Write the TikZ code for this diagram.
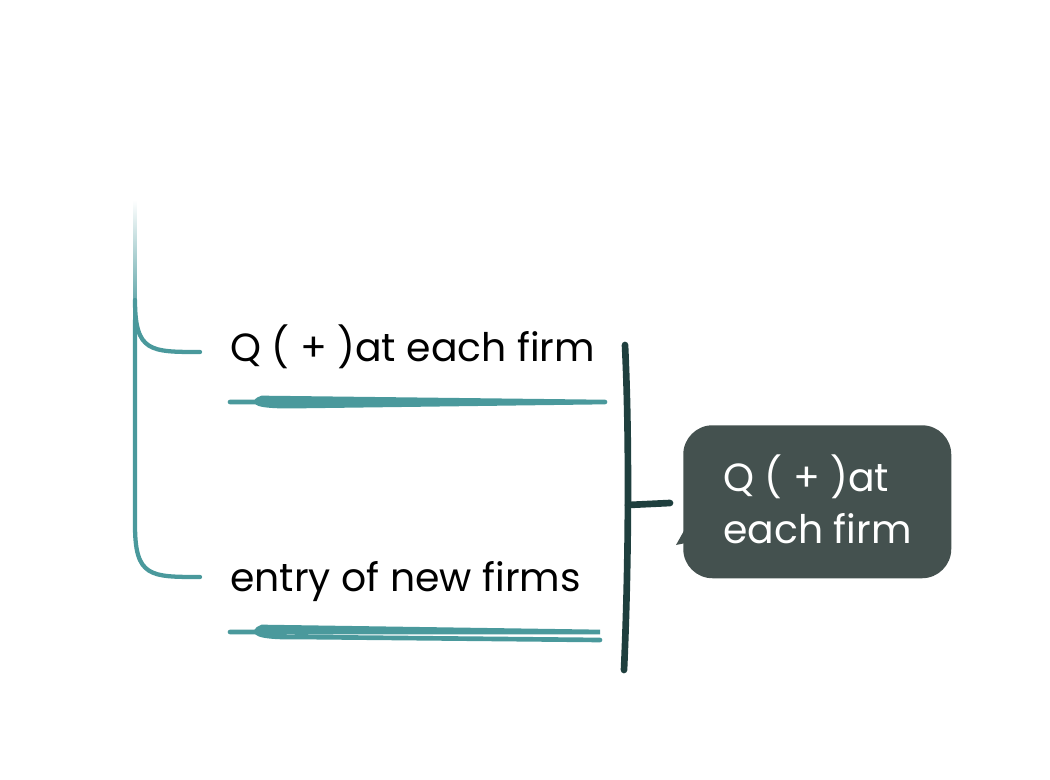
\documentclass[tikz,border=0pt]{standalone}
\usepackage{fontspec}
\setmainfont{Poppins}
\begin{document}
\begin{tikzpicture}[x=0.75pt,y=-0.75pt,
  teal/.style={draw=tealc,line width=3.2pt,line cap=round},
  lbl/.style={font=\fontsize{29.5}{34}\selectfont,anchor=base west,inner sep=0},
  bar/.style={draw=darkc,line width=5pt,line cap=round}]
\definecolor{tealc}{HTML}{4A999C}
\definecolor{darkc}{HTML}{1F3F3E}
\definecolor{boxc}{HTML}{44514F}
\useasboundingbox (0,0) rectangle (1050,780);
% faded trunk
\shade[top color=white,bottom color=tealc] (133.5,200) rectangle (136.5,320);
\draw[teal] (135,300) .. controls (135,352) and (150,352) .. (200,352);
\draw[teal] (135,320) -- (135,525) .. controls (135,577) and (150,577) .. (200,577);
% labels
\node[lbl] (t1) at (230,362) {Q ( + )at each firm};
\node[lbl] (t2) at (230,591) {entry of new firms};
% scribbled underlines
\draw[teal,line width=3.5pt] (230,402) -- (600,402) -- (262,398) .. controls (250,402) and (255,407) .. (300,406) -- (605,402);
\draw[teal,line width=3.5pt] (230,632) -- (600,632) -- (262,627) .. controls (250,632) and (255,638) .. (300,637) -- (600,640);
% bracket
\coordinate (bt) at (625,345);
\coordinate (bb) at (624,670);
\draw[bar] (bt) .. controls (630,450) and (628,580) .. (bb);
\draw[bar] (628,505) -- (670,503);
% callout
\node[fill=boxc,rounded corners=22pt,minimum width=268pt*0.75,minimum height=153pt*0.75,anchor=north west,inner sep=0] (box) at (683,425) {};
\fill[boxc] (690,520) -- (676,545) -- (700,540) -- cycle;
\node[lbl,text=white] (c1) at (723,492) {Q ( + )at};
\node[lbl,text=white] (c2) at (723,543) {each firm};
\end{tikzpicture}
\end{document}
